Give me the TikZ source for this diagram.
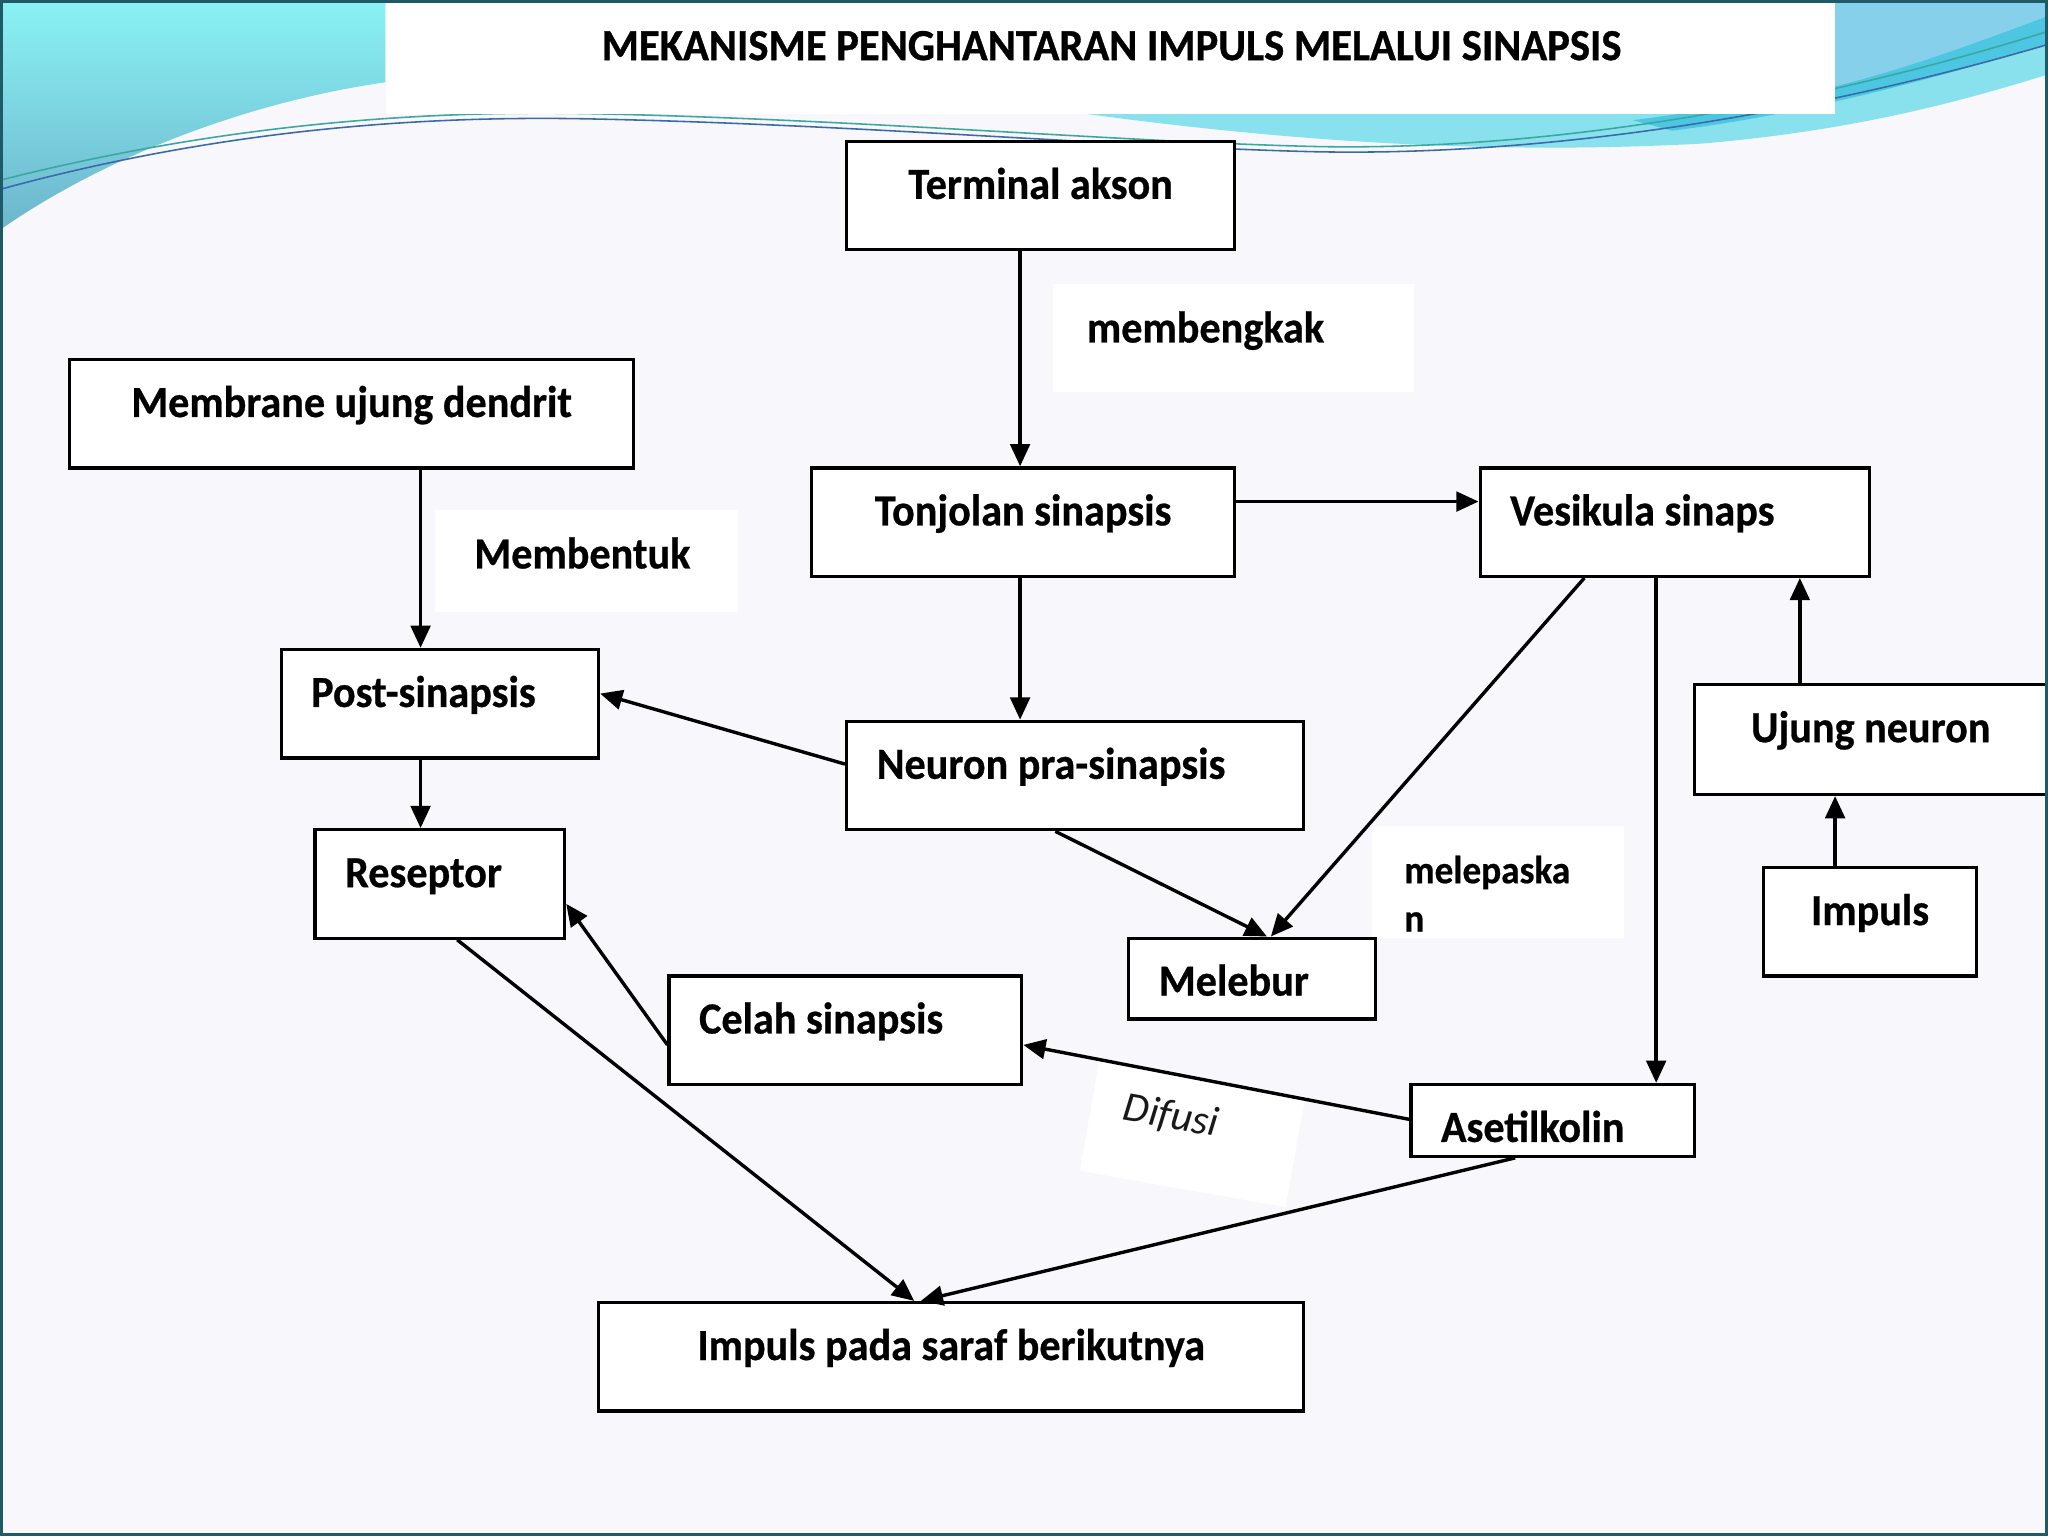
\documentclass[tikz,border=0pt]{standalone}
\usepackage{fontspec}
\setmainfont{Carlito}
\newfontfamily\boxfont{Carlito}[FakeStretch=0.95, BoldFeatures={FakeBold=0.6}]
\newfontfamily\titlefont{Carlito}[BoldFeatures={FakeBold=0.8}]
\usetikzlibrary{arrows.meta,calc}
\definecolor{bgc}{HTML}{F8F7FB}
\definecolor{cyanA}{HTML}{8AF2F4}
\definecolor{cyanB}{HTML}{6DB5CC}
\definecolor{skyblue}{HTML}{86D0EB}
\definecolor{darkcyan}{HTML}{4DC7E1}
\definecolor{lightcyan}{HTML}{88E1EC}
\definecolor{lineteal}{HTML}{3AA8A0}
\definecolor{lineblue}{HTML}{3A6AA8}
\definecolor{framec}{HTML}{1F5A66}
\begin{document}
\begin{tikzpicture}[x=1pt,y=-1pt,
  box/.style={draw=black, line width=2.5pt, fill=white, inner ysep=0pt,
    text height=44pt, font=\boxfont\bfseries\fontsize{34}{38}\selectfont, anchor=north west},
  lbox/.style={box, inner xsep=23pt, align=flush left},
  cbox/.style={box, inner xsep=2pt, align=flush center},
  lab/.style={fill=white, inner ysep=0pt, anchor=north west, align=flush left,
    font=\boxfont\bfseries\fontsize{34}{38}\selectfont},
  arr/.style={line width=2.6pt, -{Triangle[length=17pt,width=15pt]}}]
% background
\fill[bgc] (0,0) rectangle (1568,1176);
\useasboundingbox (0,0) rectangle (1568,1176);
\shade[top color=cyanA, bottom color=cyanB]
  (0,0) -- (295,0) -- (295,63) .. controls (190,78) and (80,120) .. (0,176) -- cycle;
\fill[lightcyan] (830,87) .. controls (1000,110) and (1150,118) .. (1302,110)
  .. controls (1420,100) and (1500,78) .. (1568,57) -- (1568,0) -- (830,0) -- cycle;
\fill[darkcyan] (1250,92) .. controls (1350,80) and (1470,50) .. (1568,12)
  -- (1568,34) .. controls (1480,60) and (1380,88) .. (1280,100) -- cycle;
\fill[skyblue] (1405,0) -- (1568,0) -- (1568,12) .. controls (1500,38) and (1450,55) .. (1405,66) -- cycle;
\draw[lineteal, line width=1.2pt] (0,138) .. controls (150,100) and (300,84) .. (450,87)
  .. controls (650,91) and (850,108) .. (1000,112) .. controls (1150,116) and (1350,92) .. (1568,24);
\draw[lineblue, line width=1.2pt] (0,145) .. controls (150,104) and (300,88) .. (450,91)
  .. controls (650,95) and (850,112) .. (1000,116) .. controls (1150,120) and (1350,98) .. (1568,34);
% title
\node[fill=white, minimum width=1110pt, minimum height=87pt, inner sep=0pt, anchor=north west] (tbox) at (295,0) {};
\node[font=\titlefont\bfseries\fontsize{34}{40}\selectfont, inner sep=0pt] (title) at (851,35)
  {\scalebox{0.96}[1]{MEKANISME PENGHANTARAN IMPULS MELALUI SINAPSIS}};
% labels
\node[lab, inner xsep=26pt, text width=224pt, text height=45pt, text depth=38pt] (l1) at (806,217) {membengkak};
\node[lab, inner xsep=30pt, text width=172pt, text height=45pt, text depth=33pt] (l2) at (333,390) {Membentuk};
\node[lab, inner xsep=25pt, text width=143pt, text height=44pt, text depth=42pt,
  font=\boxfont\bfseries\fontsize{30}{37}\selectfont] (l3) at (1050,632) {melepaska\\n};
\node[fill=white, inner ysep=0pt, inner xsep=25pt, text width=110pt, text height=42pt, text depth=44pt,
  align=flush left, rotate=-10, font=\itshape\fontsize{32}{36}\selectfont, text=black!90] (l4) at (913,868) {Difusi};
% boxes
\node[cbox, text width=293pt, text depth=39pt] (ta) at (647,107) {Terminal akson};
\node[cbox, text width=428pt, text depth=39pt] (mud) at (52,274) {Membrane ujung dendrit};
\node[cbox, text width=320pt, text depth=39pt] (ts) at (620,357) {Tonjolan sinapsis};
\node[lbox, text width=252pt, text depth=39pt] (vs) at (1132,357) {Vesikula sinaps};
\node[lbox, text width=197pt, text depth=39pt] (ps) at (214,496) {Post-sinapsis};
\node[lbox, text width=304pt, text depth=39pt] (np) at (647,551) {Neuron pra-sinapsis};
\node[cbox, text width=266pt, text depth=40pt] (un) at (1296,523) {Ujung neuron};
\node[lbox, text width=145pt, text depth=39pt] (re) at (240,634) {Reseptor};
\node[cbox, text width=159pt, text depth=39pt] (im) at (1349,663) {Impuls};
\node[lbox, text width=143pt, text depth=18pt] (me) at (863,717) {Melebur};
\node[lbox, text width=224pt, text depth=39pt] (cs) at (511,746) {Celah sinapsis};
\node[lbox, text width=171pt, text depth=11pt] (as) at (1079,829) {Asetilkolin};
\node[cbox, text width=536pt, text depth=39pt] (ip) at (457,996) {Impuls pada saraf berikutnya};
% arrows
\draw[arr] (ta.south -| 781,0) -- (ts.north -| 781,0);
\draw[arr] (mud.south -| 322,0) -- (ps.north -| 322,0);
\draw[arr] (ts.east |- 0,384) -- (vs.west |- 0,384);
\draw[arr] (ts.south -| 781,0) -- (np.north -| 781,0);
\draw[arr] (np.west |- 0,585) -- (ps.east |- 0,531);
\draw[arr] (ps.south -| 322,0) -- (re.north -| 322,0);
\draw[arr] (un.north -| 1378,0) -- (vs.south -| 1378,0);
\draw[arr] (im.north -| 1405,0) -- (un.south -| 1405,0);
\draw[arr] (np.south -| 808,0) -- (me.north -| 970,0);
\draw[arr] (vs.south -| 1213,0) -- (me.north -| 973,0);
\draw[arr] (vs.south -| 1268,0) -- (as.north -| 1268,0);
\draw[arr] (cs.west |- 0,800) -- (re.east |- 0,692);
\draw[arr] (as.west |- 0,857) -- (cs.east |- 0,800);
\draw[arr] (re.south -| 350,0) -- (ip.north -| 700,0);
\draw[arr] (as.south -| 1160,0) -- (ip.north -| 705,0);
% frame
\draw[framec, line width=2pt] (1,1) rectangle (1567,1175);
\end{tikzpicture}
\end{document}
